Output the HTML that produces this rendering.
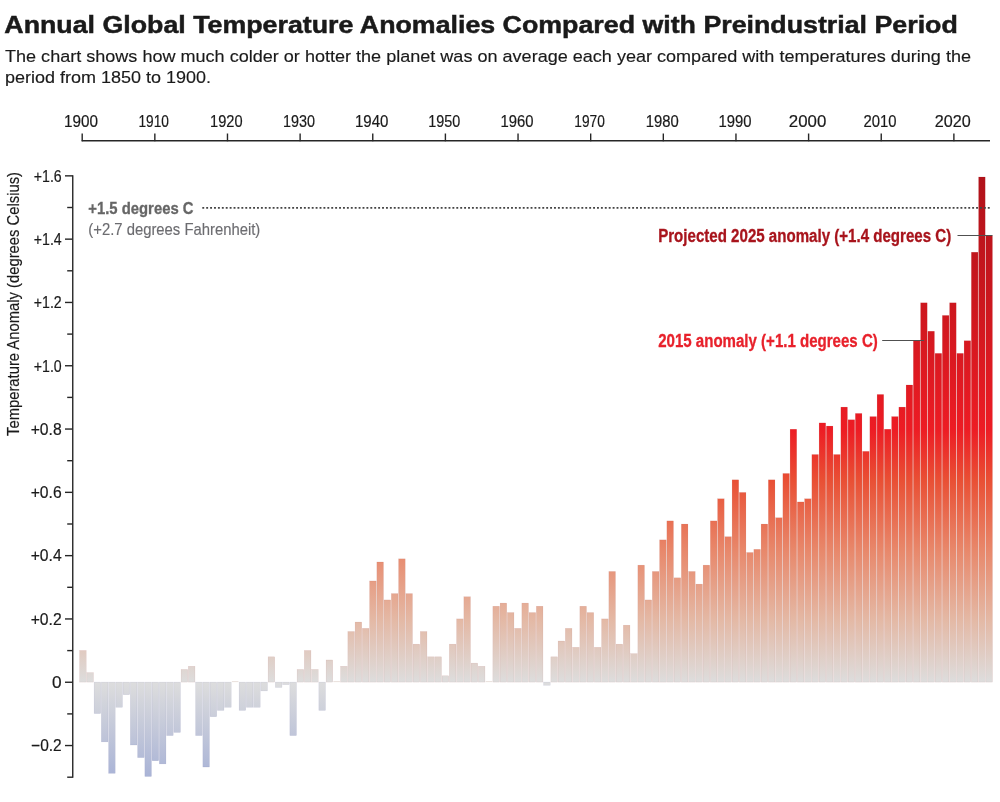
<!DOCTYPE html>
<html lang="en"><head><meta charset="utf-8"><title>Annual Global Temperature Anomalies</title>
<style>
html,body{margin:0;padding:0;background:#fff;}
body{width:1000px;height:802px;overflow:hidden;}
svg{display:block;font-family:"Liberation Sans",Arial,Helvetica,sans-serif;}
.ax{stroke:#262626;stroke-width:1.4;fill:none;}
.lab{font-size:16.4px;fill:#1a1a1a;stroke:#1a1a1a;stroke-width:0.2;}
.b{stroke:#800000;stroke-opacity:0.14;stroke-width:0.45;}
.n{stroke:#202070;}
</style></head><body>
<svg width="1000" height="802" viewBox="0 0 1000 802">
<defs>
<linearGradient id="gp" gradientUnits="userSpaceOnUse" x1="0" y1="682.1" x2="0" y2="176.3">
<stop offset="0" stop-color="#dddddd"/>
<stop offset="0.125" stop-color="#e4b8a4"/>
<stop offset="0.2625" stop-color="#e8876a"/>
<stop offset="0.4" stop-color="#e94f34"/>
<stop offset="0.5" stop-color="#ed1c24"/>
<stop offset="0.75" stop-color="#cc171e"/>
<stop offset="1" stop-color="#b0121a"/>
</linearGradient>
<linearGradient id="gn" gradientUnits="userSpaceOnUse" x1="0" y1="682.1" x2="0" y2="776.9">
<stop offset="0" stop-color="#dddddd"/>
<stop offset="1" stop-color="#a9b3d6"/>
</linearGradient>
</defs>

<text x="4.3" y="33.3" font-size="24.8" font-weight="700" fill="#1a1a1a" stroke="#1a1a1a" stroke-width="0.5" textLength="953.5" lengthAdjust="spacingAndGlyphs">Annual Global Temperature Anomalies Compared with Preindustrial Period</text>
<text x="5" y="61.8" font-size="16.4" fill="#1a1a1a" stroke="#1a1a1a" stroke-width="0.15" textLength="966" lengthAdjust="spacingAndGlyphs">The chart shows how much colder or hotter the planet was on average each year compared with temperatures during the</text>
<text x="5" y="83.3" font-size="16.4" fill="#1a1a1a" stroke="#1a1a1a" stroke-width="0.15" textLength="206" lengthAdjust="spacingAndGlyphs">period from 1850 to 1900.</text>
<path class="ax" d="M81.7 140.75H990"/>
<path class="ax" d="M82.20 133.5V141.3"/>
<text class="lab" x="64.1" y="127.2" textLength="34.0" lengthAdjust="spacingAndGlyphs">1900</text>
<path class="ax" d="M154.84 133.5V141.3"/>
<text class="lab" x="138.5" y="127.2" textLength="30.5" lengthAdjust="spacingAndGlyphs">1910</text>
<path class="ax" d="M227.48 133.5V141.3"/>
<text class="lab" x="210.1" y="127.2" textLength="32.5" lengthAdjust="spacingAndGlyphs">1920</text>
<path class="ax" d="M300.12 133.5V141.3"/>
<text class="lab" x="283.0" y="127.2" textLength="32.0" lengthAdjust="spacingAndGlyphs">1930</text>
<path class="ax" d="M372.76 133.5V141.3"/>
<text class="lab" x="354.9" y="127.2" textLength="33.5" lengthAdjust="spacingAndGlyphs">1940</text>
<path class="ax" d="M445.40 133.5V141.3"/>
<text class="lab" x="428.3" y="127.2" textLength="32.0" lengthAdjust="spacingAndGlyphs">1950</text>
<path class="ax" d="M518.04 133.5V141.3"/>
<text class="lab" x="500.4" y="127.2" textLength="33.0" lengthAdjust="spacingAndGlyphs">1960</text>
<path class="ax" d="M590.68 133.5V141.3"/>
<text class="lab" x="574.3" y="127.2" textLength="30.5" lengthAdjust="spacingAndGlyphs">1970</text>
<path class="ax" d="M663.32 133.5V141.3"/>
<text class="lab" x="645.7" y="127.2" textLength="33.0" lengthAdjust="spacingAndGlyphs">1980</text>
<path class="ax" d="M735.96 133.5V141.3"/>
<text class="lab" x="718.4" y="127.2" textLength="33.0" lengthAdjust="spacingAndGlyphs">1990</text>
<path class="ax" d="M808.60 133.5V141.3"/>
<text class="lab" x="788.8" y="127.2" textLength="37.5" lengthAdjust="spacingAndGlyphs">2000</text>
<path class="ax" d="M881.24 133.5V141.3"/>
<text class="lab" x="863.6" y="127.2" textLength="33.0" lengthAdjust="spacingAndGlyphs">2010</text>
<path class="ax" d="M953.88 133.5V141.3"/>
<text class="lab" x="934.8" y="127.2" textLength="36.0" lengthAdjust="spacingAndGlyphs">2020</text>
<path class="ax" d="M72.75 175.3V777.7"/>
<path class="ax" d="M67.2 777.20H72.75"/>
<path class="ax" d="M65 745.55H72.75"/>
<text class="lab" x="31.1" y="751.3" textLength="30.6" lengthAdjust="spacingAndGlyphs">−0.2</text>
<path class="ax" d="M67.2 713.90H72.75"/>
<path class="ax" d="M65 682.25H72.75"/>
<text class="lab" x="52.1" y="688.0" textLength="9.6" lengthAdjust="spacingAndGlyphs">0</text>
<path class="ax" d="M67.2 650.60H72.75"/>
<path class="ax" d="M65 618.95H72.75"/>
<text class="lab" x="30.7" y="624.8" textLength="31.0" lengthAdjust="spacingAndGlyphs">+0.2</text>
<path class="ax" d="M67.2 587.30H72.75"/>
<path class="ax" d="M65 555.65H72.75"/>
<text class="lab" x="30.7" y="561.4" textLength="31.0" lengthAdjust="spacingAndGlyphs">+0.4</text>
<path class="ax" d="M67.2 524.00H72.75"/>
<path class="ax" d="M65 492.35H72.75"/>
<text class="lab" x="30.7" y="498.2" textLength="31.0" lengthAdjust="spacingAndGlyphs">+0.6</text>
<path class="ax" d="M67.2 460.70H72.75"/>
<path class="ax" d="M65 429.05H72.75"/>
<text class="lab" x="30.7" y="434.8" textLength="31.0" lengthAdjust="spacingAndGlyphs">+0.8</text>
<path class="ax" d="M67.2 397.40H72.75"/>
<path class="ax" d="M65 365.75H72.75"/>
<text class="lab" x="33.8" y="371.6" textLength="27.9" lengthAdjust="spacingAndGlyphs">+1.0</text>
<path class="ax" d="M67.2 334.10H72.75"/>
<path class="ax" d="M65 302.45H72.75"/>
<text class="lab" x="33.8" y="308.2" textLength="27.9" lengthAdjust="spacingAndGlyphs">+1.2</text>
<path class="ax" d="M67.2 270.80H72.75"/>
<path class="ax" d="M65 239.15H72.75"/>
<text class="lab" x="33.8" y="245.0" textLength="27.9" lengthAdjust="spacingAndGlyphs">+1.4</text>
<path class="ax" d="M67.2 207.50H72.75"/>
<path class="ax" d="M65 175.85H72.75"/>
<text class="lab" x="33.8" y="181.6" textLength="27.9" lengthAdjust="spacingAndGlyphs">+1.6</text>
<text class="lab" transform="translate(18.5 436) rotate(-90)" font-size="15.5" textLength="264" lengthAdjust="spacingAndGlyphs">Temperature Anomaly (degrees Celsius)</text>
<rect x="79.60" y="650.49" width="6.60" height="31.61" fill="url(#gp)" class="b"/>
<rect x="86.85" y="672.62" width="6.60" height="9.48" fill="url(#gp)" class="b"/>
<rect x="94.10" y="682.10" width="6.60" height="31.46" fill="url(#gn)" class="b n"/>
<rect x="101.35" y="682.10" width="6.60" height="59.77" fill="url(#gn)" class="b n"/>
<rect x="108.60" y="682.10" width="6.60" height="91.23" fill="url(#gn)" class="b n"/>
<rect x="115.85" y="682.10" width="6.60" height="25.17" fill="url(#gn)" class="b n"/>
<rect x="123.10" y="682.10" width="6.60" height="12.58" fill="url(#gn)" class="b n"/>
<rect x="130.35" y="682.10" width="6.60" height="62.92" fill="url(#gn)" class="b n"/>
<rect x="137.60" y="682.10" width="6.60" height="75.50" fill="url(#gn)" class="b n"/>
<rect x="144.85" y="682.10" width="6.60" height="94.38" fill="url(#gn)" class="b n"/>
<rect x="152.10" y="682.10" width="6.60" height="78.65" fill="url(#gn)" class="b n"/>
<rect x="159.35" y="682.10" width="6.60" height="81.80" fill="url(#gn)" class="b n"/>
<rect x="166.60" y="682.10" width="6.60" height="53.48" fill="url(#gn)" class="b n"/>
<rect x="173.85" y="682.10" width="6.60" height="50.34" fill="url(#gn)" class="b n"/>
<rect x="181.10" y="669.46" width="6.60" height="12.64" fill="url(#gp)" class="b"/>
<rect x="188.35" y="666.30" width="6.60" height="15.80" fill="url(#gp)" class="b"/>
<rect x="195.60" y="682.10" width="6.60" height="53.48" fill="url(#gn)" class="b n"/>
<rect x="202.85" y="682.10" width="6.60" height="84.94" fill="url(#gn)" class="b n"/>
<rect x="210.10" y="682.10" width="6.60" height="34.61" fill="url(#gn)" class="b n"/>
<rect x="217.35" y="682.10" width="6.60" height="28.31" fill="url(#gn)" class="b n"/>
<rect x="224.60" y="682.10" width="6.60" height="25.17" fill="url(#gn)" class="b n"/>
<rect x="231.85" y="681.20" width="6.60" height="0.9" fill="#e6dcd8"/>
<rect x="239.10" y="682.10" width="6.60" height="28.31" fill="url(#gn)" class="b n"/>
<rect x="246.35" y="682.10" width="6.60" height="25.17" fill="url(#gn)" class="b n"/>
<rect x="253.60" y="682.10" width="6.60" height="25.17" fill="url(#gn)" class="b n"/>
<rect x="260.85" y="682.10" width="6.60" height="8.81" fill="url(#gn)" class="b n"/>
<rect x="268.10" y="656.81" width="6.60" height="25.29" fill="url(#gp)" class="b"/>
<rect x="275.35" y="682.10" width="6.60" height="5.35" fill="url(#gn)" class="b n"/>
<rect x="282.60" y="682.10" width="6.60" height="2.52" fill="url(#gn)" class="b n"/>
<rect x="289.85" y="682.10" width="6.60" height="53.48" fill="url(#gn)" class="b n"/>
<rect x="297.10" y="669.46" width="6.60" height="12.64" fill="url(#gp)" class="b"/>
<rect x="304.35" y="650.49" width="6.60" height="31.61" fill="url(#gp)" class="b"/>
<rect x="311.60" y="669.46" width="6.60" height="12.64" fill="url(#gp)" class="b"/>
<rect x="318.85" y="682.10" width="6.60" height="28.31" fill="url(#gn)" class="b n"/>
<rect x="326.10" y="659.97" width="6.60" height="22.13" fill="url(#gp)" class="b"/>
<rect x="333.35" y="681.20" width="6.60" height="0.9" fill="#e6dcd8"/>
<rect x="340.60" y="666.30" width="6.60" height="15.80" fill="url(#gp)" class="b"/>
<rect x="347.85" y="631.52" width="6.60" height="50.58" fill="url(#gp)" class="b"/>
<rect x="355.10" y="622.04" width="6.60" height="60.06" fill="url(#gp)" class="b"/>
<rect x="362.35" y="628.36" width="6.60" height="53.74" fill="url(#gp)" class="b"/>
<rect x="369.60" y="580.95" width="6.60" height="101.15" fill="url(#gp)" class="b"/>
<rect x="376.85" y="561.98" width="6.60" height="120.12" fill="url(#gp)" class="b"/>
<rect x="384.10" y="599.91" width="6.60" height="82.19" fill="url(#gp)" class="b"/>
<rect x="391.35" y="593.59" width="6.60" height="88.51" fill="url(#gp)" class="b"/>
<rect x="398.60" y="558.82" width="6.60" height="123.28" fill="url(#gp)" class="b"/>
<rect x="405.85" y="593.59" width="6.60" height="88.51" fill="url(#gp)" class="b"/>
<rect x="413.10" y="644.17" width="6.60" height="37.93" fill="url(#gp)" class="b"/>
<rect x="420.35" y="631.52" width="6.60" height="50.58" fill="url(#gp)" class="b"/>
<rect x="427.60" y="656.81" width="6.60" height="25.29" fill="url(#gp)" class="b"/>
<rect x="434.85" y="656.81" width="6.60" height="25.29" fill="url(#gp)" class="b"/>
<rect x="442.10" y="675.78" width="6.60" height="6.32" fill="url(#gp)" class="b"/>
<rect x="449.35" y="644.17" width="6.60" height="37.93" fill="url(#gp)" class="b"/>
<rect x="456.60" y="618.88" width="6.60" height="63.22" fill="url(#gp)" class="b"/>
<rect x="463.85" y="596.75" width="6.60" height="85.35" fill="url(#gp)" class="b"/>
<rect x="471.10" y="663.13" width="6.60" height="18.97" fill="url(#gp)" class="b"/>
<rect x="478.35" y="666.30" width="6.60" height="15.80" fill="url(#gp)" class="b"/>
<rect x="485.60" y="681.20" width="6.60" height="0.9" fill="#e6dcd8"/>
<rect x="492.85" y="606.24" width="6.60" height="75.86" fill="url(#gp)" class="b"/>
<rect x="500.10" y="603.08" width="6.60" height="79.02" fill="url(#gp)" class="b"/>
<rect x="507.35" y="612.56" width="6.60" height="69.54" fill="url(#gp)" class="b"/>
<rect x="514.60" y="628.36" width="6.60" height="53.74" fill="url(#gp)" class="b"/>
<rect x="521.85" y="603.08" width="6.60" height="79.02" fill="url(#gp)" class="b"/>
<rect x="529.10" y="612.56" width="6.60" height="69.54" fill="url(#gp)" class="b"/>
<rect x="536.35" y="606.24" width="6.60" height="75.86" fill="url(#gp)" class="b"/>
<rect x="543.60" y="682.10" width="6.60" height="3.15" fill="url(#gn)" class="b n"/>
<rect x="550.85" y="656.81" width="6.60" height="25.29" fill="url(#gp)" class="b"/>
<rect x="558.10" y="641.01" width="6.60" height="41.09" fill="url(#gp)" class="b"/>
<rect x="565.35" y="628.36" width="6.60" height="53.74" fill="url(#gp)" class="b"/>
<rect x="572.60" y="647.33" width="6.60" height="34.77" fill="url(#gp)" class="b"/>
<rect x="579.85" y="606.24" width="6.60" height="75.86" fill="url(#gp)" class="b"/>
<rect x="587.10" y="612.56" width="6.60" height="69.54" fill="url(#gp)" class="b"/>
<rect x="594.35" y="647.33" width="6.60" height="34.77" fill="url(#gp)" class="b"/>
<rect x="601.60" y="618.88" width="6.60" height="63.22" fill="url(#gp)" class="b"/>
<rect x="608.85" y="571.47" width="6.60" height="110.63" fill="url(#gp)" class="b"/>
<rect x="616.10" y="644.17" width="6.60" height="37.93" fill="url(#gp)" class="b"/>
<rect x="623.35" y="625.20" width="6.60" height="56.90" fill="url(#gp)" class="b"/>
<rect x="630.60" y="653.65" width="6.60" height="28.45" fill="url(#gp)" class="b"/>
<rect x="637.85" y="565.14" width="6.60" height="116.96" fill="url(#gp)" class="b"/>
<rect x="645.10" y="599.91" width="6.60" height="82.19" fill="url(#gp)" class="b"/>
<rect x="652.35" y="571.47" width="6.60" height="110.63" fill="url(#gp)" class="b"/>
<rect x="659.60" y="539.86" width="6.60" height="142.25" fill="url(#gp)" class="b"/>
<rect x="666.85" y="520.89" width="6.60" height="161.21" fill="url(#gp)" class="b"/>
<rect x="674.10" y="577.79" width="6.60" height="104.31" fill="url(#gp)" class="b"/>
<rect x="681.35" y="524.05" width="6.60" height="158.05" fill="url(#gp)" class="b"/>
<rect x="688.60" y="571.47" width="6.60" height="110.63" fill="url(#gp)" class="b"/>
<rect x="695.85" y="584.11" width="6.60" height="97.99" fill="url(#gp)" class="b"/>
<rect x="703.10" y="565.14" width="6.60" height="116.96" fill="url(#gp)" class="b"/>
<rect x="710.35" y="520.89" width="6.60" height="161.21" fill="url(#gp)" class="b"/>
<rect x="717.60" y="498.76" width="6.60" height="183.34" fill="url(#gp)" class="b"/>
<rect x="724.85" y="536.69" width="6.60" height="145.41" fill="url(#gp)" class="b"/>
<rect x="732.10" y="479.80" width="6.60" height="202.30" fill="url(#gp)" class="b"/>
<rect x="739.35" y="492.44" width="6.60" height="189.66" fill="url(#gp)" class="b"/>
<rect x="746.60" y="552.50" width="6.60" height="129.60" fill="url(#gp)" class="b"/>
<rect x="753.85" y="549.34" width="6.60" height="132.76" fill="url(#gp)" class="b"/>
<rect x="761.10" y="524.05" width="6.60" height="158.05" fill="url(#gp)" class="b"/>
<rect x="768.35" y="479.80" width="6.60" height="202.30" fill="url(#gp)" class="b"/>
<rect x="775.60" y="517.73" width="6.60" height="164.37" fill="url(#gp)" class="b"/>
<rect x="782.85" y="473.47" width="6.60" height="208.63" fill="url(#gp)" class="b"/>
<rect x="790.10" y="429.22" width="6.60" height="252.88" fill="url(#gp)" class="b"/>
<rect x="797.35" y="501.92" width="6.60" height="180.18" fill="url(#gp)" class="b"/>
<rect x="804.60" y="498.76" width="6.60" height="183.34" fill="url(#gp)" class="b"/>
<rect x="811.85" y="454.51" width="6.60" height="227.59" fill="url(#gp)" class="b"/>
<rect x="819.10" y="422.90" width="6.60" height="259.20" fill="url(#gp)" class="b"/>
<rect x="826.35" y="426.06" width="6.60" height="256.04" fill="url(#gp)" class="b"/>
<rect x="833.60" y="454.51" width="6.60" height="227.59" fill="url(#gp)" class="b"/>
<rect x="840.85" y="407.09" width="6.60" height="275.01" fill="url(#gp)" class="b"/>
<rect x="848.10" y="419.74" width="6.60" height="262.36" fill="url(#gp)" class="b"/>
<rect x="855.35" y="413.42" width="6.60" height="268.69" fill="url(#gp)" class="b"/>
<rect x="862.60" y="451.35" width="6.60" height="230.75" fill="url(#gp)" class="b"/>
<rect x="869.85" y="416.58" width="6.60" height="265.52" fill="url(#gp)" class="b"/>
<rect x="877.10" y="394.45" width="6.60" height="287.65" fill="url(#gp)" class="b"/>
<rect x="884.35" y="429.22" width="6.60" height="252.88" fill="url(#gp)" class="b"/>
<rect x="891.60" y="416.58" width="6.60" height="265.52" fill="url(#gp)" class="b"/>
<rect x="898.85" y="407.09" width="6.60" height="275.01" fill="url(#gp)" class="b"/>
<rect x="906.10" y="384.97" width="6.60" height="297.13" fill="url(#gp)" class="b"/>
<rect x="913.35" y="340.71" width="6.60" height="341.39" fill="url(#gp)" class="b"/>
<rect x="920.60" y="302.78" width="6.60" height="379.32" fill="url(#gp)" class="b"/>
<rect x="927.85" y="331.23" width="6.60" height="350.87" fill="url(#gp)" class="b"/>
<rect x="935.10" y="353.36" width="6.60" height="328.74" fill="url(#gp)" class="b"/>
<rect x="942.35" y="315.42" width="6.60" height="366.68" fill="url(#gp)" class="b"/>
<rect x="949.60" y="302.78" width="6.60" height="379.32" fill="url(#gp)" class="b"/>
<rect x="956.85" y="353.36" width="6.60" height="328.74" fill="url(#gp)" class="b"/>
<rect x="964.10" y="340.71" width="6.60" height="341.39" fill="url(#gp)" class="b"/>
<rect x="971.35" y="252.20" width="6.60" height="429.90" fill="url(#gp)" class="b"/>
<rect x="978.60" y="176.97" width="6.60" height="505.13" fill="url(#gp)" class="b"/>
<rect x="985.85" y="235.45" width="6.60" height="446.65" fill="url(#gp)" class="b"/>
<path d="M202.3 207.9H990" stroke="#444" stroke-width="1.8" stroke-dasharray="1.9 2.008" fill="none"/>
<text x="88.3" y="213.6" font-size="16.8" font-weight="700" fill="#666" stroke="#666" stroke-width="0.3" textLength="105.2" lengthAdjust="spacingAndGlyphs">+1.5 degrees C</text>
<text x="88.3" y="235.3" font-size="16.6" fill="#6c6c70" stroke="#6c6c70" stroke-width="0.15" textLength="172" lengthAdjust="spacingAndGlyphs">(+2.7 degrees Fahrenheit)</text>
<path d="M957.5 235.5H992.4" stroke="#505050" stroke-width="1" fill="none"/>
<path d="M882.2 340.5H924" stroke="#505050" stroke-width="1" fill="none"/>
<text x="658.2" y="241.5" font-size="17.5" font-weight="700" fill="#a8141c" stroke="#a8141c" stroke-width="0.3" textLength="293" lengthAdjust="spacingAndGlyphs">Projected 2025 anomaly (+1.4 degrees C)</text>
<text x="658.2" y="347" font-size="17.5" font-weight="700" fill="#e8212b" stroke="#e8212b" stroke-width="0.3" textLength="219.6" lengthAdjust="spacingAndGlyphs">2015 anomaly (+1.1 degrees C)</text>
</svg></body></html>
